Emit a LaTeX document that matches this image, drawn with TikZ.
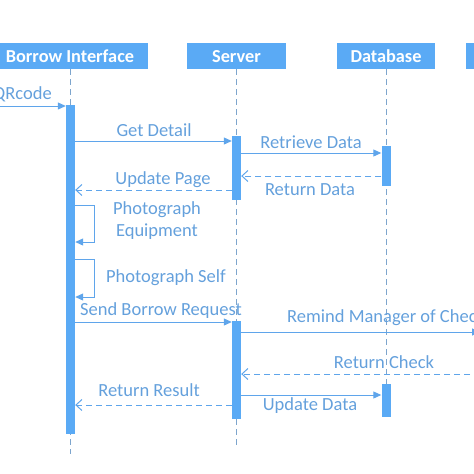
\documentclass[tikz,border=0pt]{standalone}
\usepackage{fontspec}
\setmainfont{Carlito}
\usetikzlibrary{arrows.meta}
\definecolor{boxblue}{RGB}{90,170,245}
\definecolor{msgblue}{RGB}{95,165,235}
\definecolor{txtblue}{RGB}{100,160,220}
\definecolor{lifeblue}{RGB}{125,165,205}
\begin{document}
\begin{tikzpicture}[x=1pt,y=-1pt,
  head/.style={fill=boxblue,text=white,font=\fontsize{18.3}{21}\selectfont\bfseries,inner sep=0pt,minimum height=26pt,anchor=north},
  bar/.style={fill=boxblue,draw=none,inner sep=0pt,minimum width=9pt,anchor=north},
  life/.style={draw=lifeblue,dash pattern=on 6pt off 4pt,line width=1pt},
  msg/.style={draw=msgblue,line width=1pt,-{Triangle[length=8pt,width=7pt]}},
  ret/.style={draw=msgblue,line width=1pt,dash pattern=on 6pt off 4pt,-{Straight Barb[length=6pt,width=11pt]}},
  lbl/.style={text=txtblue,font=\fontsize{18.5}{22}\selectfont,inner sep=0pt}]
\useasboundingbox (0,0) rectangle (474,474);
\clip (0,0) rectangle (474,474);
% headers
\node[head,minimum width=156pt] (bi) at (70,43) {Borrow Interface};
\node[head,minimum width=99pt] (sv) at (236.5,43) {Server};
\node[head,minimum width=98pt] (db) at (386,43) {Database};
\node[head,minimum width=100pt] (mg) at (516,43) {};
% lifeline ends
\coordinate (biend) at (70.5,454);
\coordinate (svend) at (236.5,447);
\coordinate (dbend) at (386,417);
\draw[life] (bi.south -| biend) -- (biend);
\draw[life] (sv.south) -- (svend);
\draw[life] (db.south) -- (dbend);
% activation bars
\node[bar,minimum height=329pt] (a1) at (70.5,105) {};
\node[bar,minimum height=64pt] (s1) at (236.5,136) {};
\node[bar,minimum height=40pt] (d1) at (386,146) {};
\node[bar,minimum height=98pt] (s2) at (236.5,321) {};
\node[bar,minimum height=33pt] (d2) at (386,384) {};
% outer endpoints
\coordinate (qr) at (-2,106);
\coordinate (mgin) at (480,332);
\coordinate (mgout) at (480,374);
% messages
\draw[msg] (qr) -- (a1.west |- qr);
\node[lbl,anchor=east] (lqr) at (52,94) {QRcode};
\draw[msg] (a1.east |- 0,141) -- (s1.west |- 0,141);
\node[lbl] (l1) at (154,130) {Get Detail};
\draw[msg] (s1.east |- 0,153) -- (d1.west |- 0,153);
\node[lbl] (l2) at (311,142) {Retrieve Data};
\draw[ret] (d1.west |- 0,176) -- (s1.east |- 0,176);
\node[lbl] (l3) at (310,190) {Return Data};
\draw[ret] (s1.west |- 0,190) -- (a1.east |- 0,190);
\node[lbl] (l4) at (163,180) {Update Page};
\draw[msg] (a1.east |- 0,205) -- (94,205) -- (94,242) -- (a1.east |- 0,242);
\node[lbl,align=center] (l5) at (157,221) {Photograph\\Equipment};
\draw[msg] (a1.east |- 0,259) -- (94,259) -- (94,297) -- (a1.east |- 0,297);
\node[lbl] (l6) at (166,278) {Photograph Self};
\draw[msg] (a1.east |- 0,322) -- (s2.west |- 0,322);
\node[lbl] (l7) at (161,311) {Send Borrow Request};
\draw (s2.east |- mgin) edge[msg] (mgin);
\node[lbl,anchor=west] (l8) at (287,318) {Remind Manager of Check};
\draw[ret] (mgout) -- (s2.east |- mgout);
\node[lbl] (l9) at (384,362) {Return Check};
\draw[msg] (s2.east |- 0,395) -- (d2.west |- 0,395);
\node[lbl] (l10) at (310,406) {Update Data};
\draw[ret] (s2.west |- 0,405) -- (a1.east |- 0,405);
\node[lbl] (l11) at (149,390) {Return Result};
\end{tikzpicture}
\end{document}
